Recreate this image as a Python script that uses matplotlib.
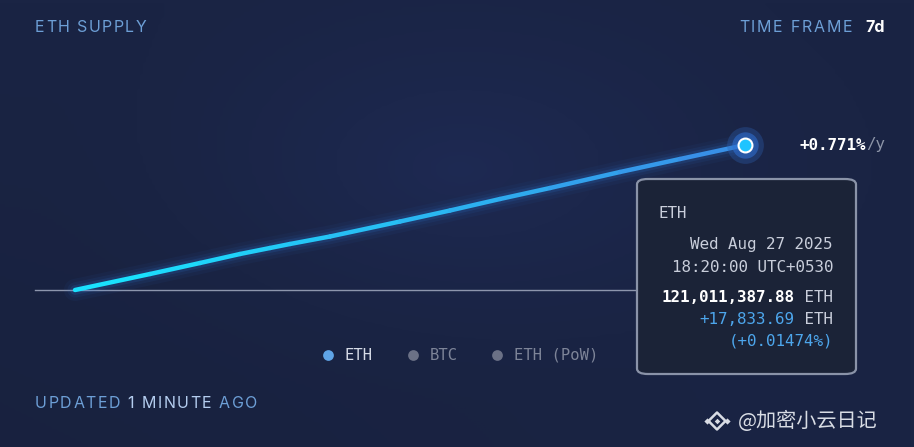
import numpy as np
import matplotlib.pyplot as plt
from matplotlib.collections import LineCollection
from matplotlib.patches import FancyBboxPatch
from matplotlib.colors import LinearSegmentedColormap
from matplotlib.textpath import TextPath
from matplotlib.font_manager import FontProperties

# ------------------- data --------------------------------------------- #
days = [0.0, 0.784, 1.306, 1.724, 2.037, 2.246, 2.664, 3.396, 3.918,
        4.440, 4.963, 5.694, 6.321, 7.0]
supply_change = [0, 1968, 3321, 4428, 5166, 5658, 6580, 8425, 9778,
                 11192, 12545, 14513, 16112, 17833.69]   # ETH since start

TITLE = "ETH SUPPLY"
TIME_FRAME = "7d"
RATE = "+0.771%"
TIP_DATE = "Wed Aug 27 2025"
TIP_TIME = "18:20:00 UTC+0530"
TIP_SUPPLY = "121,011,387.88"
TIP_CHANGE = "+17,833.69"
TIP_PCT = "(+0.01474%)"
LEGEND = ["ETH", "BTC", "ETH (PoW)"]

# ------------------- style ---------------------------------------------- #
W, H = 914, 447
BG = "#1a2444"
MONO = "DejaVu Sans Mono"
SANS = "Inter"
BLUE_TXT = "#6d9fd6"
LINE_L = np.array([0x18, 0xe6, 0xff]) / 255
LINE_R = np.array([0x3a, 0x8c, 0xe6]) / 255

fig = plt.figure(figsize=(W / 100, H / 100), dpi=100)
fig.patch.set_facecolor(BG)
ax = fig.add_axes([0, 0, 1, 1])
ax.set_axis_off()

# pixel mapping: day 0 -> x=75px, day 7 -> x=745px ; change 0 -> y=290px, max -> y=145px
px_day = (745 - 75) / 7.0
px_eth = (290 - 145) / supply_change[-1]
x0, x1 = -75 / px_day, (W - 75) / px_day
y0, y1 = -(H - 290) / px_eth, 290 / px_eth
ax.set_xlim(x0, x1)
ax.set_ylim(y0, y1)


def P(x, y):
    return x / W, 1 - y / H


def D(x, y):
    # pixel position -> data coords
    return (x - 75) / px_day, (290 - y) / px_eth


def spaced(x, y, parts, size=11.5, family=SANS, track=1.5, ha="left", weight="normal"):
    """draw letter-spaced text; parts = [(string, colour), ...]"""
    fp = FontProperties(family=family, size=size, weight=weight)
    scale = 100 / 72
    chars = [(ch, c) for s, c in parts for ch in s]
    widths = []
    for ch, _ in chars:
        if ch == " ":
            w = TextPath((0, 0), "a a", prop=fp).get_extents().width - \
                TextPath((0, 0), "aa", prop=fp).get_extents().width
        else:
            w = TextPath((0, 0), "|" + ch + "|", prop=fp).get_extents().width - \
                TextPath((0, 0), "||", prop=fp).get_extents().width
        widths.append(w * scale + track)
    total = sum(widths) - track
    cx = x - total if ha == "right" else x
    for (ch, c), w in zip(chars, widths):
        if ch != " ":
            fig.text(*P(cx, y), ch, color=c, fontproperties=fp, va="center")
        cx += w


# background glow
gx, gy = np.meshgrid(np.linspace(0, W, 300), np.linspace(0, H, 150))
r = np.sqrt(((gx - 460) / 430) ** 2 + ((gy - 170) / 240) ** 2)
glow = np.clip(1 - r, 0, 1) ** 1.5
bg_cmap = LinearSegmentedColormap.from_list("bg", ["#161f39", "#1a2444", "#1e2a54"])
ax.imshow(0.5 + 0.5 * glow - 0.22 * np.clip((gy / H) * (1 - gx / W), 0, 1),
          extent=[x0, x1, y0, y1], origin="upper",
          cmap=bg_cmap, vmin=0, vmax=1, aspect="auto", zorder=0,
          interpolation="bilinear")

# baseline
ax.plot([D(35, 0)[0], D(640, 0)[0]], [0, 0], color="#8d96ad", lw=1.0, zorder=1)

# glow under the line
for lw, a in [(16, 0.05), (11, 0.08), (7, 0.14)]:
    ax.plot(days, supply_change, color="#2f7fe0", lw=lw, alpha=a,
            solid_capstyle="round", zorder=2)

pts = np.column_stack([days, supply_change])
segs = np.stack([pts[:-1], pts[1:]], axis=1)
t = (np.array(days[:-1]) + np.array(days[1:])) / 2 / days[-1]
cols = [tuple(LINE_L * (1 - v) + LINE_R * v) for v in t]
ax.add_collection(LineCollection(segs, colors=cols, linewidths=3.2,
                                 capstyle="round", joinstyle="round", zorder=3))

# end marker
ax.scatter([days[-1]], [supply_change[-1]], s=700, color="#2c5fb0", alpha=0.35, lw=0, zorder=4)
ax.scatter([days[-1]], [supply_change[-1]], s=360, color="#2f70d4", alpha=0.55, lw=0, zorder=4)
ax.scatter([days[-1]], [supply_change[-1]], s=100, color="#1fc4ff", edgecolor="white",
           lw=1.5, zorder=5)

# header texts
spaced(35, 28, [(TITLE, BLUE_TXT)], track=1.4)
spaced(852, 28, [("TIME FRAME", BLUE_TXT)], ha="right", track=1.7)
fig.text(*P(865, 28), TIME_FRAME, color="white", family=SANS, fontsize=11.5,
         va="center", weight="bold")

# rate label
fig.text(*P(866, 145), RATE, color="white", family=MONO, fontsize=11.4,
         va="center", ha="right", weight="bold")
fig.text(*P(866, 145), "/y", color="#8d95a8", family=MONO, fontsize=11.4, va="center")

# tooltip
box = FancyBboxPatch(P(637, 374), (856 - 637) / W, (374 - 179) / H,
                     boxstyle="round,pad=0,rounding_size=0.012",
                     transform=fig.transFigure, facecolor="#1b2337",
                     edgecolor="#8a93a8", lw=1.6, zorder=10)
fig.add_artist(box)
tk = dict(family=MONO, fontsize=11.4, va="center", zorder=11)
cw = 9.55
fig.text(*P(659, 213), "ETH", color="#c9cedb", **tk)
fig.text(*P(833, 244), TIP_DATE, color="#c9cedb", ha="right", **tk)
fig.text(*P(833, 267), TIP_TIME, color="#c9cedb", ha="right", **tk)
fig.text(*P(833, 298), " ETH", color="#c9cedb", ha="right", **tk)
fig.text(*P(833 - 4 * cw, 298), TIP_SUPPLY, color="white", ha="right", weight="bold", **tk)
fig.text(*P(833, 319), " ETH", color="#c9cedb", ha="right", **tk)
fig.text(*P(833 - 4 * cw, 319), TIP_CHANGE, color="#4da6ec", ha="right", **tk)
fig.text(*P(833, 341), TIP_PCT, color="#4da6ec", ha="right", **tk)

# legend
leg_x = [328, 413, 497]
leg_c = ["#5fa4e6", "#6b7186", "#6b7186"]
leg_t = ["#d5dae6", "#7d8498", "#7d8498"]
for x, lab, c, tc in zip(leg_x, LEGEND, leg_c, leg_t):
    ax.scatter(*D(x, 355), s=60, color=c, lw=0, zorder=6)
    fig.text(*P(x + 17, 355), lab, color=tc, family=MONO, fontsize=11.2, va="center")

# footer
spaced(35, 403, [("UPDATED ", BLUE_TXT), ("1 MINUTE", "#b4cdef"), (" AGO", BLUE_TXT)],
       track=1.5)

# watermark
wx, wy = 717, 421
ax.scatter(*D(wx, wy), s=75, marker="D", facecolor="none", edgecolor="#d8dce4",
           lw=1.8, zorder=6)
ax.scatter(*D(wx, wy), s=8, marker="D", color="#d8dce4", lw=0, zorder=6)
ax.scatter([D(wx - 10, wy)[0], D(wx + 10, wy)[0]], [D(wx, wy)[1]] * 2, s=10,
           marker="D", color="#d8dce4", lw=0, zorder=6)
fig.text(*P(738, wy), "@加密小云日记", color="#d8dce4", fontsize=14.5, va="center",
         family=["Noto Sans CJK SC", "DejaVu Sans"])

fig.savefig("out.png", dpi=100, facecolor=BG)
